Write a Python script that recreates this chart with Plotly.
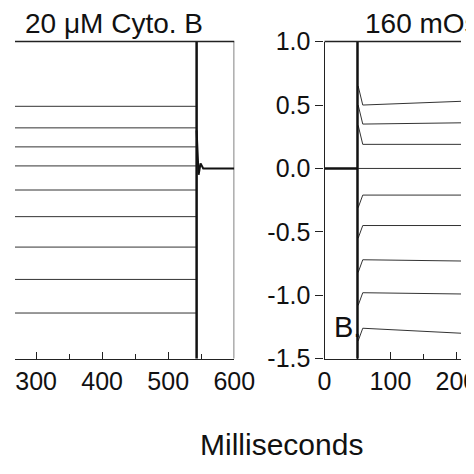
import plotly.graph_objects as go

# levels of steady current (left: before step at 543 ms, right: after step at 50 ms)
left_levels = [0.49, 0.32, 0.17, 0.02, -0.17, -0.38, -0.62, -0.875, -1.14]
right_start = [0.50, 0.35, 0.19, 0.0, -0.21, -0.45, -0.72, -0.98, -1.26]
right_end = [0.53, 0.36, 0.19, 0.0, -0.21, -0.45, -0.73, -0.99, -1.30]
left_step = 543
right_step = 50
left_time = [260, 400, left_step - 1]
right_time = [right_step + 1, right_step + 8, 210]

FONT = "Liberation Sans"
YDOM = [0.2451, 0.956]
fig = go.Figure()

for lv in left_levels:
    fig.add_trace(go.Scatter(x=left_time, y=[lv, lv, lv], mode="lines",
                             line=dict(color="#333", width=1), xaxis="x", yaxis="y"))
fig.add_trace(go.Scatter(x=[left_step, left_step + 3, left_step + 6, left_step + 10, 600],
                         y=[0.3, -0.05, 0.04, 0.0, 0.0], mode="lines",
                         line=dict(color="#111", width=2), xaxis="x", yaxis="y"))

for s, e in zip(right_start, right_end):
    spike = s + (0.15 if s > 0 else -0.1 if s < 0 else 0)
    fig.add_trace(go.Scatter(x=[right_time[0], right_time[1], right_time[2]], y=[spike, s, e],
                             mode="lines", line=dict(color="#333", width=1), xaxis="x2", yaxis="y2"))
fig.add_trace(go.Scatter(x=[0, right_step], y=[0, 0], mode="lines",
                         line=dict(color="#111", width=2.5), xaxis="x2", yaxis="y2"))

fig.add_shape(type="line", xref="x", yref="y", x0=left_step, x1=left_step, y0=-1.5, y1=1.0,
              line=dict(color="#111", width=2.5))
fig.add_shape(type="line", xref="x", yref="y", x0=600, x1=600, y0=-1.5, y1=1.0,
              line=dict(color="#222", width=1.2))
fig.add_shape(type="line", xref="x2", yref="y2", x0=right_step, x1=right_step, y0=-1.5, y1=1.0,
              line=dict(color="#111", width=2.5))
# top borders
fig.add_shape(type="line", xref="paper", yref="paper", x0=0, x1=0.4916, y0=YDOM[1], y1=YDOM[1],
              line=dict(color="#222", width=1.5))
fig.add_shape(type="line", xref="paper", yref="paper", x0=0.694, x1=1.0, y0=YDOM[1], y1=YDOM[1],
              line=dict(color="#222", width=1.5))

ax = dict(showgrid=False, zeroline=False, showline=True, linecolor="#222", linewidth=1.2,
          ticks="inside", ticklen=7, tickcolor="#222",
          tickfont=dict(family=FONT, size=25, color="#111"),
          minor=dict(ticks="inside", ticklen=5, dtick=50, tickcolor="#222"))

fig.update_layout(
    width=474, height=474, margin=dict(l=0, r=0, t=0, b=0),
    plot_bgcolor="white", paper_bgcolor="white", showlegend=False,
    xaxis=dict(ax, domain=[0, 0.4916], range=[268, 600], tickvals=[300, 400, 500, 600]),
    yaxis=dict(domain=YDOM, range=[-1.5, 1.0], visible=False),
    xaxis2=dict(ax, domain=[0.694, 1.0], range=[0, 207], tickvals=[0, 100, 200], anchor="y2"),
    yaxis2=dict(domain=YDOM, range=[-1.5, 1.0], anchor="x2", showgrid=False,
                zeroline=False, showline=True, linecolor="#222", linewidth=1.2,
                ticks="outside", ticklen=8, tickcolor="#222",
                tickvals=[1.0, 0.5, 0.0, -0.5, -1.0, -1.5],
                ticktext=["1.0", "0.5", "0.0", "-0.5", "-1.0", "-1.5"],
                tickfont=dict(family=FONT, size=25, color="#111")),
)

fig.add_annotation(text="20 μM Cyto. B", x=8 / 474, y=1.035, xref="paper", yref="paper",
                   xanchor="left", showarrow=False, font=dict(family=FONT, size=28, color="#111"))
fig.add_annotation(text="160 mOsm", x=0.78, y=1.035, xref="paper", yref="paper", xanchor="left",
                   showarrow=False, font=dict(family=FONT, size=28, color="#111"))
fig.add_annotation(text="B.", x=0.781, y=0.275, xref="paper", yref="paper",
                   showarrow=False, font=dict(family=FONT, size=29, color="#111"))
fig.add_annotation(text="Milliseconds", x=0.598, y=0.011, xref="paper", yref="paper",
                   showarrow=False, font=dict(family=FONT, size=30, color="#111"))

fig.write_html("out.html")
